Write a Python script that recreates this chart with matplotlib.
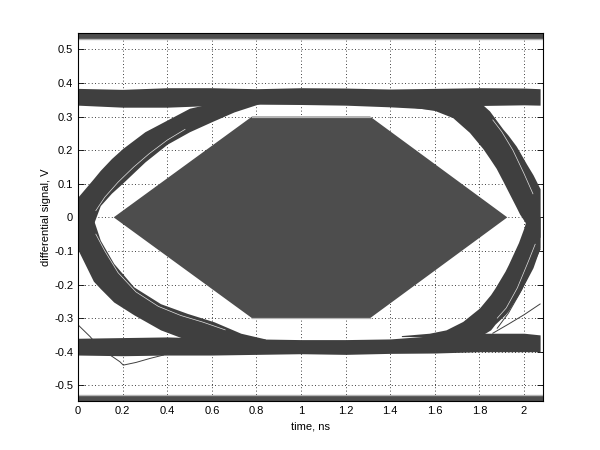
import matplotlib
matplotlib.use("Agg")
import matplotlib.pyplot as plt
from matplotlib.patches import Polygon

plt.rcParams['font.family'] = ['Liberation Sans', 'DejaVu Sans']

# ---- data ----
x_ticks = [0, 0.2, 0.4, 0.6, 0.8, 1.0, 1.2, 1.4, 1.6, 1.8, 2.0]
x_tick_labels = ["0", "0.2", "0.4", "0.6", "0.8", "1", "1.2", "1.4", "1.6", "1.8", "2"]
y_ticks = [-0.5, -0.4, -0.3, -0.2, -0.1, 0, 0.1, 0.2, 0.3, 0.4, 0.5]
y_tick_labels = ["-0.5", "-0.4", "-0.3", "-0.2", "-0.1", "0", "0.1", "0.2", "0.3", "0.4", "0.5"]

# eye mask (hexagon) and top/bottom forbidden bars
mask_x = [0.16, 0.78, 1.31, 1.925, 1.31, 0.78]
mask_y = [0.0, 0.30, 0.30, 0.0, -0.30, -0.30]
bar_inner = 0.53

# upper rail (logic 1) band
top_x = [0.0, 0.2, 0.4, 0.6, 0.8, 1.0, 1.2, 1.4, 1.6, 1.8, 2.0, 2.072]
top_hi = [0.384, 0.381, 0.386, 0.386, 0.383, 0.386, 0.385, 0.382, 0.384, 0.386, 0.385, 0.383]
top_lo = [0.334, 0.328, 0.328, 0.333, 0.337, 0.336, 0.334, 0.329, 0.322, 0.333, 0.335, 0.334]

# lower rail (logic 0) band
bot_x = [0.0, 0.2, 0.4, 0.6, 0.8, 1.0, 1.2, 1.4, 1.6, 1.8, 2.0, 2.072]
bot_hi = [-0.360, -0.358, -0.356, -0.360, -0.362, -0.364, -0.364, -0.362, -0.352, -0.345, -0.345, -0.350]
bot_lo = [-0.410, -0.412, -0.410, -0.410, -0.408, -0.406, -0.408, -0.405, -0.404, -0.400, -0.400, -0.400]

# left crossing: rising / falling bundles (x, outer edge, inner edge)
ul_x = [0.0, 0.069, 0.10, 0.15, 0.20, 0.30, 0.40, 0.50, 0.60, 0.70, 0.82]
ul_out = [0.061, 0.115, 0.140, 0.175, 0.205, 0.255, 0.290, 0.325, 0.340, 0.340, 0.340]
ul_in = [-0.060, -0.020, 0.035, 0.072, 0.102, 0.165, 0.218, 0.255, 0.285, 0.314, 0.340]

ll_x = [0.0, 0.069, 0.10, 0.16, 0.25, 0.37, 0.49, 0.61, 0.73, 0.84]
ll_out = [-0.097, -0.190, -0.212, -0.252, -0.290, -0.335, -0.365, -0.365, -0.365, -0.365]
ll_in = [0.000, -0.006, -0.068, -0.137, -0.207, -0.257, -0.286, -0.311, -0.345, -0.362]

# right crossing bundles (x, outer edge, inner edge)
ur_x = [1.45, 1.60, 1.68, 1.755, 1.815, 1.845, 1.875, 1.905, 1.928, 1.965, 1.98, 2.01, 2.04, 2.072]
ur_out = [0.335, 0.335, 0.335, 0.335, 0.335, 0.317, 0.290, 0.263, 0.245, 0.212, 0.195, 0.160, 0.127, 0.085]
ur_in = [0.333, 0.318, 0.297, 0.253, 0.205, 0.176, 0.146, 0.108, 0.078, 0.030, 0.010, -0.020, -0.045, -0.060]

lr_x = [1.45, 1.575, 1.65, 1.725, 1.80, 1.85, 1.87, 1.915, 1.93, 1.975, 2.0, 2.01, 2.04, 2.072]
lr_out = [-0.355, -0.355, -0.355, -0.355, -0.355, -0.335, -0.318, -0.290, -0.278, -0.230, -0.200, -0.188, -0.150, -0.090]
lr_in = [-0.352, -0.345, -0.335, -0.310, -0.270, -0.230, -0.210, -0.160, -0.140, -0.075, -0.030, -0.006, 0.000, 0.000]

# stray single traces
stray1_x = [0.0, 0.054, 0.10, 0.188, 0.203, 0.26, 0.323, 0.383]
stray1_y = [-0.320, -0.355, -0.390, -0.430, -0.440, -0.432, -0.420, -0.410]
stray2_x = [1.86, 1.93, 2.0, 2.072]
stray2_y = [-0.345, -0.318, -0.290, -0.258]
stray3_x = [1.88, 1.93, 1.99, 2.04, 2.072]
stray3_y = [-0.330, -0.285, -0.215, -0.140, -0.095]

# light gaps between overlapping traces inside the bundles
gap_ul_x = [0.08, 0.12, 0.18, 0.25, 0.32, 0.40, 0.48]
gap_ul_y = [0.020, 0.060, 0.105, 0.150, 0.190, 0.230, 0.262]
gap_ll_x = [0.08, 0.12, 0.18, 0.26, 0.36, 0.46, 0.56, 0.66]
gap_ll_y = [-0.050, -0.100, -0.165, -0.222, -0.265, -0.292, -0.312, -0.335]
gap_ur_x = [1.86, 1.90, 1.95, 2.00, 2.04]
gap_ur_y = [0.290, 0.255, 0.200, 0.130, 0.070]
gap_lr_x = [1.88, 1.92, 1.97, 2.02, 2.05]
gap_lr_y = [-0.300, -0.270, -0.210, -0.130, -0.080]

trace_col = '#3f3f3f'
mask_col = '#4d4d4d'
edge_col = '#b4b4b4'

fig = plt.figure(figsize=(6, 4.5), dpi=100)
ax = fig.add_axes([0.13, 0.108, 0.775, 0.818])

xlim = (0, 2.085)
ylim = (-0.548, 0.548)

# bands
ax.fill_between(top_x, top_lo, top_hi, color=trace_col, lw=0, zorder=3)
ax.fill_between(bot_x, bot_lo, bot_hi, color=trace_col, lw=0, zorder=3)
ax.fill_between(ul_x, ul_in, ul_out, color=trace_col, lw=0, zorder=3)
ax.fill_between(ll_x, ll_out, ll_in, color=trace_col, lw=0, zorder=3)
ax.fill_between(ur_x, ur_in, ur_out, color=trace_col, lw=0, zorder=3)
ax.fill_between(lr_x, lr_out, lr_in, color=trace_col, lw=0, zorder=3)
for gx, gy in [(gap_ul_x, gap_ul_y), (gap_ll_x, gap_ll_y), (gap_ur_x, gap_ur_y), (gap_lr_x, gap_lr_y)]:
    ax.plot(gx, gy, color='white', lw=0.5, alpha=0.85, zorder=3.5)
for sx, sy in [(stray1_x, stray1_y), (stray2_x, stray2_y), (stray3_x, stray3_y)]:
    ax.plot(sx, sy, color=trace_col, lw=0.7, zorder=3)

# mask
ax.add_patch(Polygon(list(zip(mask_x, mask_y)), closed=True, facecolor=mask_col,
                     edgecolor='none', zorder=4))
ax.plot([mask_x[1], mask_x[2]], [mask_y[1], mask_y[2]], color=edge_col, lw=0.9, zorder=4.5)
ax.plot([mask_x[4], mask_x[5]], [mask_y[4], mask_y[5]], color=edge_col, lw=0.9, zorder=4.5)
ax.fill_between(list(xlim), bar_inner, ylim[1], color=mask_col, lw=0, zorder=4)
ax.fill_between(list(xlim), -bar_inner, ylim[0], color=mask_col, lw=0, zorder=4)
ax.axhline(bar_inner, color=edge_col, lw=1.0, zorder=4)
ax.axhline(-bar_inner, color=edge_col, lw=1.0, zorder=4)

ax.set_xlim(*xlim)
ax.set_ylim(*ylim)
ax.set_xticks(x_ticks)
ax.set_xticklabels(x_tick_labels)
ax.set_yticks(y_ticks)
ax.set_yticklabels(y_tick_labels)
ax.tick_params(direction='in', top=True, right=True, labelsize=8, length=4, width=0.6)
ax.grid(True, color='black', linestyle=(0, (1, 3)), linewidth=0.6, zorder=1)
ax.set_axisbelow(True)
for s in ax.spines.values():
    s.set_linewidth(0.8)
    s.set_zorder(6)
ax.set_xlabel("time, ns", fontsize=8, labelpad=4)
ax.set_ylabel("differential signal, V", fontsize=8, labelpad=2)

fig.savefig("out.png", dpi=100)
